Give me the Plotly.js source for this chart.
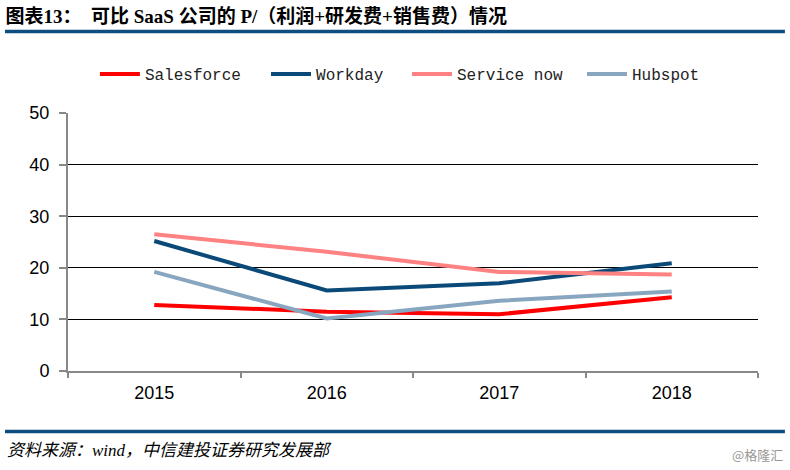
<!DOCTYPE html>
<html>
<head>
<meta charset="utf-8">
<script src="https://cdn.plot.ly/plotly-3.0.1.min.js"></script>
<style>html,body{margin:0;padding:0;background:#fff;}#chart{width:790px;height:470px;}</style>
</head>
<body>
<div id="chart"></div>
<script>
var years = ['2015', '2016', '2017', '2018'];
var salesforce = [12.8, 11.5, 11.0, 14.3];
var workday = [25.2, 15.6, 17.0, 20.9];
var servicenow = [26.5, 23.1, 19.2, 18.7];
var hubspot = [19.2, 10.2, 13.6, 15.4];
var seriesNames = ['Salesforce', 'Workday', 'Service now', 'Hubspot'];
var yTicks = [0, 10, 20, 30, 40, 50];

var colors = ['#FF0000', '#0B4A78', '#FF8282', '#88A6BF'];
var seriesData = [salesforce, workday, servicenow, hubspot];
var legendIds = ['legend', 'legend2', 'legend3', 'legend4'];
var legendX = [0.039, 0.287, 0.4913, 0.7449];

var traces = seriesData.map(function (vals, i) {
  return {
    x: years, y: vals, type: 'scatter', mode: 'lines', name: seriesNames[i],
    line: {color: colors[i], width: 4}, legend: legendIds[i]
  };
});

var layout = {
  width: 790, height: 470,
  margin: {l: 68, r: 32, t: 113, b: 99},
  paper_bgcolor: '#fff', plot_bgcolor: '#fff',
  showlegend: true,
  title: {
    text: '<b>图表13：  可比 SaaS 公司的 P/（利润+研发费+销售费）情况</b>',
    x: 0.007, xanchor: 'left', xref: 'container',
    y: 0.965, yanchor: 'middle', yref: 'container',
    font: {family: 'Liberation Serif, Noto Sans CJK SC', size: 19, color: '#000'}
  },
  xaxis: {
    type: 'category', range: [-0.5, 3.5], tickson: 'boundaries', ticks: 'outside', ticklen: 5,
    tickcolor: '#888', tickwidth: 2,
    showline: true, linecolor: '#888', linewidth: 2,
    showgrid: false, zeroline: false,
    tickfont: {family: 'Liberation Sans, Arial', size: 18, color: '#000'},
    ticklabelstandoff: 4
  },
  yaxis: {
    range: [0, 50], tickvals: yTicks, ticktext: yTicks.map(String),
    ticks: 'outside', ticklen: 7, tickcolor: '#888', tickwidth: 2,
    showline: true, linecolor: '#888', linewidth: 2,
    showgrid: true, gridcolor: '#000', gridwidth: 1, zeroline: false,
    tickfont: {family: 'Liberation Sans, Arial', size: 18, color: '#000'},
    ticklabelstandoff: 6
  },
  shapes: [
    {type: 'line', xref: 'paper', yref: 'paper', x0: -0.0913, x1: 1.039, y0: 1.316, y1: 1.316,
     line: {color: '#0E4D7F', width: 3.5}},
    {type: 'line', xref: 'paper', yref: 'paper', x0: -0.0913, x1: 1.039, y0: -0.2345, y1: -0.2345,
     line: {color: '#0E4D7F', width: 3.5}}
  ],
  annotations: [
    {text: '<i>资料来源：wind，中信建投证券研究发展部</i>', xref: 'paper', yref: 'paper',
     x: -0.0913, xanchor: 'left', y: -0.31, yanchor: 'middle', showarrow: false,
     font: {family: 'Liberation Serif, Noto Sans CJK SC', size: 17, color: '#000'}},
    {text: '@格隆汇', xref: 'paper', yref: 'paper',
     x: 1.039, xanchor: 'right', y: -0.325, yanchor: 'middle', showarrow: false,
     font: {family: 'Noto Sans CJK SC', size: 13, color: '#999'}}
  ]
};

legendIds.forEach(function (id, i) {
  layout[id] = {
    orientation: 'h', x: legendX[i], xanchor: 'left', y: 1.151, yanchor: 'middle',
    font: {family: 'Liberation Mono, monospace', size: 16, color: '#222'},
    itemwidth: 40, bgcolor: 'rgba(0,0,0,0)'
  };
});

Plotly.newPlot('chart', traces, layout, {displayModeBar: false, staticPlot: true});
</script>
</body>
</html>
